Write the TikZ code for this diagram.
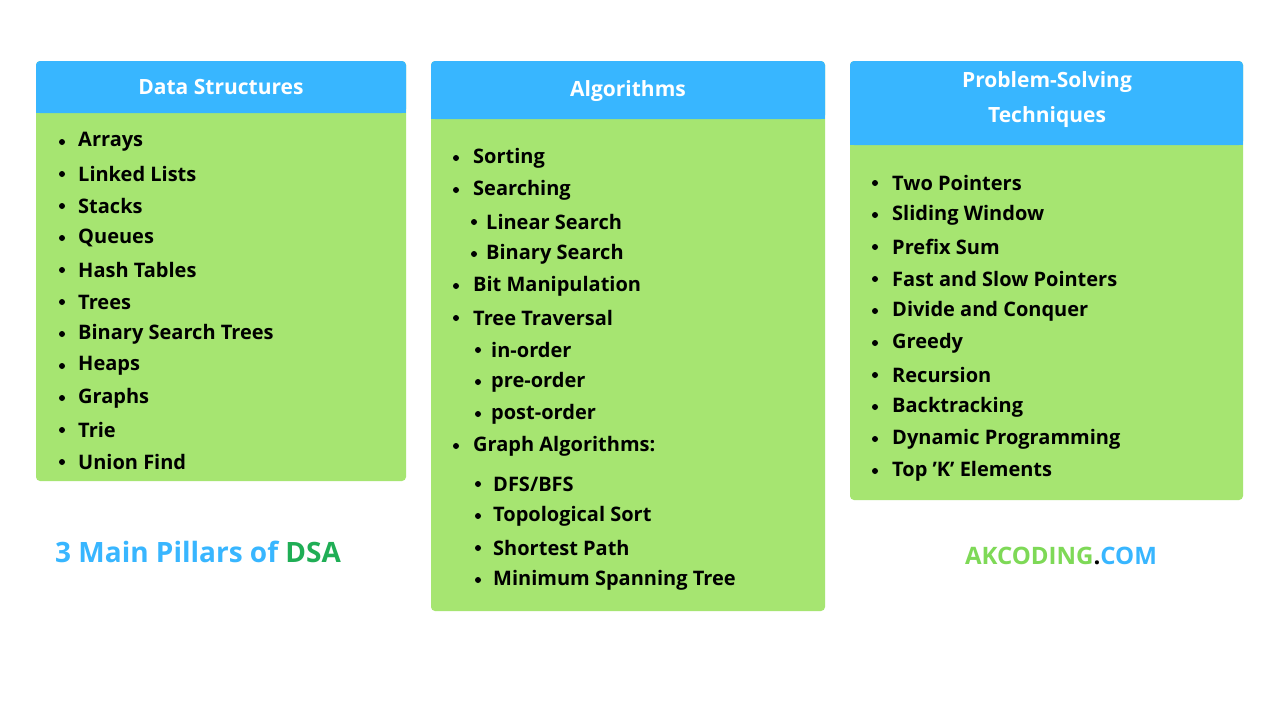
\documentclass[tikz,border=0pt]{standalone}
\usepackage{fontspec}
\setmainfont{Open Sans}
\definecolor{headblue}{HTML}{38B6FF}
\definecolor{boxgreen}{HTML}{A6E571}
\definecolor{dsagreen}{HTML}{1FAE55}
\definecolor{akgreen}{HTML}{7ED957}
\tikzset{
  item/.style={anchor=west,inner sep=0pt,font=\fontsize{20}{24}\selectfont\bfseries},
  dot/.style={circle,fill=black,inner sep=0pt,minimum size=6pt},
  head/.style={align=center,text=white,font=\fontsize{21}{35}\selectfont\bfseries}
}
\begin{document}
\begin{tikzpicture}[x=1pt,y=-1pt]
  \useasboundingbox[fill=white] (0,0) rectangle (1280,720);
  % Boxes
  \fill[boxgreen,rounded corners=4pt] (36,61) rectangle (406,481);
  \fill[headblue,rounded corners=4pt] (36,61) rectangle (406,113);
  \fill[headblue] (36,100) rectangle (406,113);
  \fill[boxgreen,rounded corners=4pt] (431,61) rectangle (825,611);
  \fill[headblue,rounded corners=4pt] (431,61) rectangle (825,119);
  \fill[headblue] (431,105) rectangle (825,119);
  \fill[boxgreen,rounded corners=4pt] (850,61) rectangle (1243,500);
  \fill[headblue,rounded corners=4pt] (850,61) rectangle (1243,145);
  \fill[headblue] (850,130) rectangle (1243,145);
  % Headers
  \node[head] (dshead) at (221,87) {Data Structures};
  \node[head] (alhead) at (628,91) {Algorithms};
  \node[head] (pshead) at (1047,100) {Problem-Solving\\Techniques};
  % Data structures
  \foreach \t [count=\i] in {Arrays,Linked Lists,Stacks,Queues,Hash Tables,Trees,
      Binary Search Trees,Heaps,Graphs,Trie,Union Find} {
    \node[dot] (dsdot\i) at (62,110+32*\i) {};
    \node[item] (ds\i) at (78,110+32*\i) {\t};
  }
  % Algorithms
  \foreach \t/\y/\b/\x in {Sorting/158/456/473, Searching/190/456/473,
      Linear Search/222/474/486, Binary Search/254/474/486,
      Bit Manipulation/286/456/473, Tree Traversal/318/456/473,
      in-order/350/478/491, pre-order/382/478/491, post-order/414/478/491,
      Graph Algorithms:/446/456/473, {DFS/BFS}/484/478/493,
      Topological Sort/516/478/493, Shortest Path/548/478/493,
      Minimum Spanning Tree/580/478/493} {
    \node[dot] at (\b,\y) {};
    \node[item] at (\x,\y) {\t};
  }
  % Techniques
  \foreach \t [count=\i] in {Two Pointers,Sliding Window,Prefix Sum,
      Fast and Slow Pointers,Divide and Conquer,Greedy,Recursion,
      Backtracking,Dynamic Programming,Top 'K' Elements} {
    \node[dot] (psdot\i) at (875,151+32*\i) {};
    \node[item] (ps\i) at (892,151+32*\i) {\t};
  }
  % Bottom texts
  \node[anchor=west,inner sep=0pt,font=\fontsize{28}{30}\selectfont\bfseries]
    (title) at (55,552) {\textcolor{headblue}{3 Main Pillars of} \textcolor{dsagreen}{DSA}};
  \node[inner sep=0pt,font=\fontsize{24}{28}\selectfont\bfseries]
    (site) at (1061,556) {\textcolor{akgreen}{AKCODING}.\textcolor{headblue}{COM}};
\end{tikzpicture}
\end{document}
